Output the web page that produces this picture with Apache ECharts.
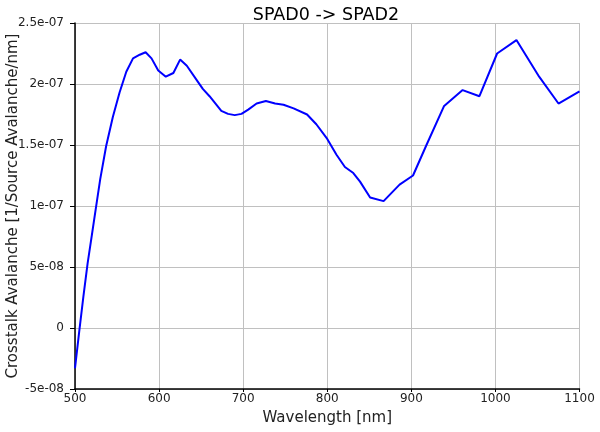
<!DOCTYPE html>
<html>
<head>
<meta charset="utf-8">
<script src="https://cdn.jsdelivr.net/npm/echarts@6/dist/echarts.min.js"></script>
<style>
html,body{margin:0;padding:0;background:#fff;}
#chart{width:600px;height:432px;}
</style>
</head>
<body>
<div id="chart"></div>
<script>
const wavelengths = [500, 505, 510, 515, 520, 525, 530, 537, 545, 553, 561, 569, 577, 584, 591, 599, 608, 617, 625, 633, 646, 652, 660, 674, 682, 690, 698, 706, 716, 727, 738, 748, 760, 776, 787, 800, 811, 821, 831, 839, 851, 867, 886, 902, 918, 939, 961, 981, 1002, 1025, 1052, 1075, 1100];
const crosstalk = [-3.3e-8, -0.3e-8, 2.6e-8, 5.3e-8, 7.6e-8, 9.9e-8, 12.2e-8, 14.9e-8, 17.3e-8, 19.3e-8, 21.0e-8, 22.1e-8, 22.4e-8, 22.6e-8, 22.1e-8, 21.1e-8, 20.6e-8, 20.9e-8, 22.0e-8, 21.5e-8, 20.2e-8, 19.6e-8, 19.0e-8, 17.8e-8, 17.55e-8, 17.45e-8, 17.55e-8, 17.9e-8, 18.4e-8, 18.6e-8, 18.4e-8, 18.3e-8, 18.0e-8, 17.5e-8, 16.7e-8, 15.5e-8, 14.2e-8, 13.2e-8, 12.7e-8, 12.0e-8, 10.7e-8, 10.4e-8, 11.75e-8, 12.5e-8, 15.0e-8, 18.2e-8, 19.5e-8, 19.0e-8, 22.5e-8, 23.6e-8, 20.6e-8, 18.4e-8, 19.4e-8];
const yTickLabels = {"-5e-8": "-5e-08", "0": "0", "5e-8": "5e-08", "1e-7": "1e-07", "1.5e-7": "1.5e-07", "2e-7": "2e-07", "2.5e-7": "2.5e-07"};
const titleText = "SPAD0 -> SPAD2";
const xName = "Wavelength [nm]";
const yName = "Crosstalk Avalanche [1/Source Avalanche/nm]";

const points = wavelengths.map((w, i) => [w, crosstalk[i]]);

function fmtY(v) {
  const r = Math.round(v * 1e10) / 1e10;
  if (r === 0) return "0";
  for (const k in yTickLabels) {
    if (Math.abs(parseFloat(k) - r) < 1e-12) return yTickLabels[k];
  }
  return String(r);
}

const chart = echarts.init(document.getElementById('chart'), null, {renderer: 'canvas'});
chart.setOption({
  animation: false,
  backgroundColor: '#ffffff',
  title: {
    text: titleText,
    left: 321, top: 1, textAlign: 'center',
    textStyle: {fontFamily: 'DejaVu Sans', fontSize: 17.5, fontWeight: 'normal', color: '#000'}
  },
  grid: {left: 75, right: 20.5, top: 23, bottom: 43, containLabel: false, outerBoundsMode: 'none'},
  xAxis: {
    type: 'value', min: 500, max: 1100, interval: 100,
    name: xName, nameLocation: 'middle', nameGap: 22, nameMoveOverlap: false,
    nameTextStyle: {fontFamily: 'DejaVu Sans', fontSize: 15, color: '#222'},
    axisLine: {show: true, onZero: false, lineStyle: {color: '#000', width: 1.5}},
    axisTick: {show: true, length: 3, inside: false, lineStyle: {color: '#000'}},
    axisLabel: {fontFamily: 'DejaVu Sans', fontSize: 12, color: '#222', margin: 4, formatter: (v) => String(v)},
    splitLine: {show: true, lineStyle: {color: '#c0c0c0', width: 1}}
  },
  yAxis: {
    type: 'value', min: -5e-8, max: 2.5e-7, interval: 5e-8,
    name: yName, nameLocation: 'middle', nameGap: 54, nameRotate: 90, nameMoveOverlap: false,
    nameTextStyle: {fontFamily: 'DejaVu Sans', fontSize: 15, color: '#222'},
    axisLine: {show: true, onZero: false, lineStyle: {color: '#000', width: 1.5}},
    axisTick: {show: true, length: 5, inside: false, lineStyle: {color: '#000'}},
    axisLabel: {fontFamily: 'DejaVu Sans', fontSize: 12, color: '#222', margin: 11, formatter: fmtY},
    splitLine: {show: true, lineStyle: {color: '#c0c0c0', width: 1}}
  },
  series: [{
    type: 'line', data: points, showSymbol: false, smooth: false,
    lineStyle: {color: '#0000ff', width: 2}, itemStyle: {color: '#0000ff'}
  }]
});
</script>
</body>
</html>
